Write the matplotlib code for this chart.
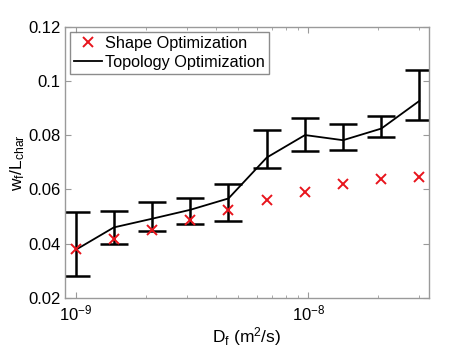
import matplotlib
matplotlib.use("Agg")
import matplotlib.pyplot as plt
import numpy as np

plt.rcParams['font.family'] = ['Liberation Sans', 'DejaVu Sans']
plt.rcParams['mathtext.fontset'] = 'custom'
plt.rcParams['mathtext.rm'] = 'Liberation Sans'
plt.rcParams['mathtext.it'] = 'Liberation Sans'

D_f = [1.0e-9, 1.46e-9, 2.13e-9, 3.11e-9, 4.54e-9, 6.63e-9, 9.68e-9, 1.41e-8, 2.06e-8, 3.0e-8]
shape_opt = [0.0382, 0.0419, 0.0452, 0.0488, 0.0526, 0.0562, 0.0592, 0.0619, 0.0637, 0.0645]
topo_opt = [0.0377, 0.0460, 0.0492, 0.0525, 0.0567, 0.0718, 0.0801, 0.0782, 0.0825, 0.0927]
topo_upper = [0.0517, 0.0522, 0.0553, 0.0567, 0.0622, 0.0820, 0.0863, 0.0840, 0.0872, 0.1041]
topo_lower = [0.0282, 0.0400, 0.0447, 0.0471, 0.0485, 0.0678, 0.0741, 0.0744, 0.0795, 0.0856]
yticks = [0.02, 0.04, 0.06, 0.08, 0.1, 0.12]
ytick_labels = ['0.02', '0.04', '0.06', '0.08', '0.1', '0.12']

fig = plt.figure(figsize=(4.74, 3.55), dpi=100)
ax = fig.add_axes([0.137, 0.161, 0.768, 0.763])

t = np.array(topo_opt)
yerr = [t - np.array(topo_lower), np.array(topo_upper) - t]
ax.errorbar(D_f, topo_opt, yerr=yerr, fmt='none', ecolor='black', elinewidth=1.8,
            capsize=10, capthick=1.8, zorder=2)
ax.plot(D_f, shape_opt, 'x', color='#e8141c', markersize=6.5, markeredgewidth=1.4,
        label='Shape Optimization', zorder=3)
ax.plot(D_f, topo_opt, '-', color='black', linewidth=1.3, label='Topology Optimization', zorder=2)

ax.set_xscale('log')
ax.set_xlim(0.9e-9, 3.3e-8)
ax.set_ylim(0.02, 0.12)
ax.set_yticks(yticks)
ax.set_yticklabels(ytick_labels)
ax.set_xticks([1e-9, 1e-8])
ax.set_xticklabels([r'$10^{-9}$', r'$10^{-8}$'])

for s in ax.spines.values():
    s.set_color('#9a9a9a')
    s.set_linewidth(1.0)
ax.tick_params(which='both', direction='in', top=True, right=True, color='#9a9a9a',
               labelsize=12, labelcolor='black')
ax.tick_params(which='major', length=4)
ax.tick_params(which='minor', length=2.5)
ax.tick_params(axis='x', pad=4)
ax.tick_params(axis='y', pad=3)

ax.set_xlabel(r'D$_\mathregular{f}$ (m$^\mathregular{2}$/s)', fontsize=12.5, labelpad=1)
ax.set_ylabel(r'w$_\mathregular{f}$/L$_\mathregular{char}$', fontsize=12.5, labelpad=1)

leg = ax.legend(loc='upper left', fontsize=11.7, frameon=True, fancybox=False,
                borderaxespad=0.3, handlelength=1.7, handletextpad=0.2,
                borderpad=0.25, labelspacing=0.25)
leg.get_frame().set_edgecolor('#707070')
leg.get_frame().set_linewidth(1.0)

fig.savefig('out.png', dpi=100)
